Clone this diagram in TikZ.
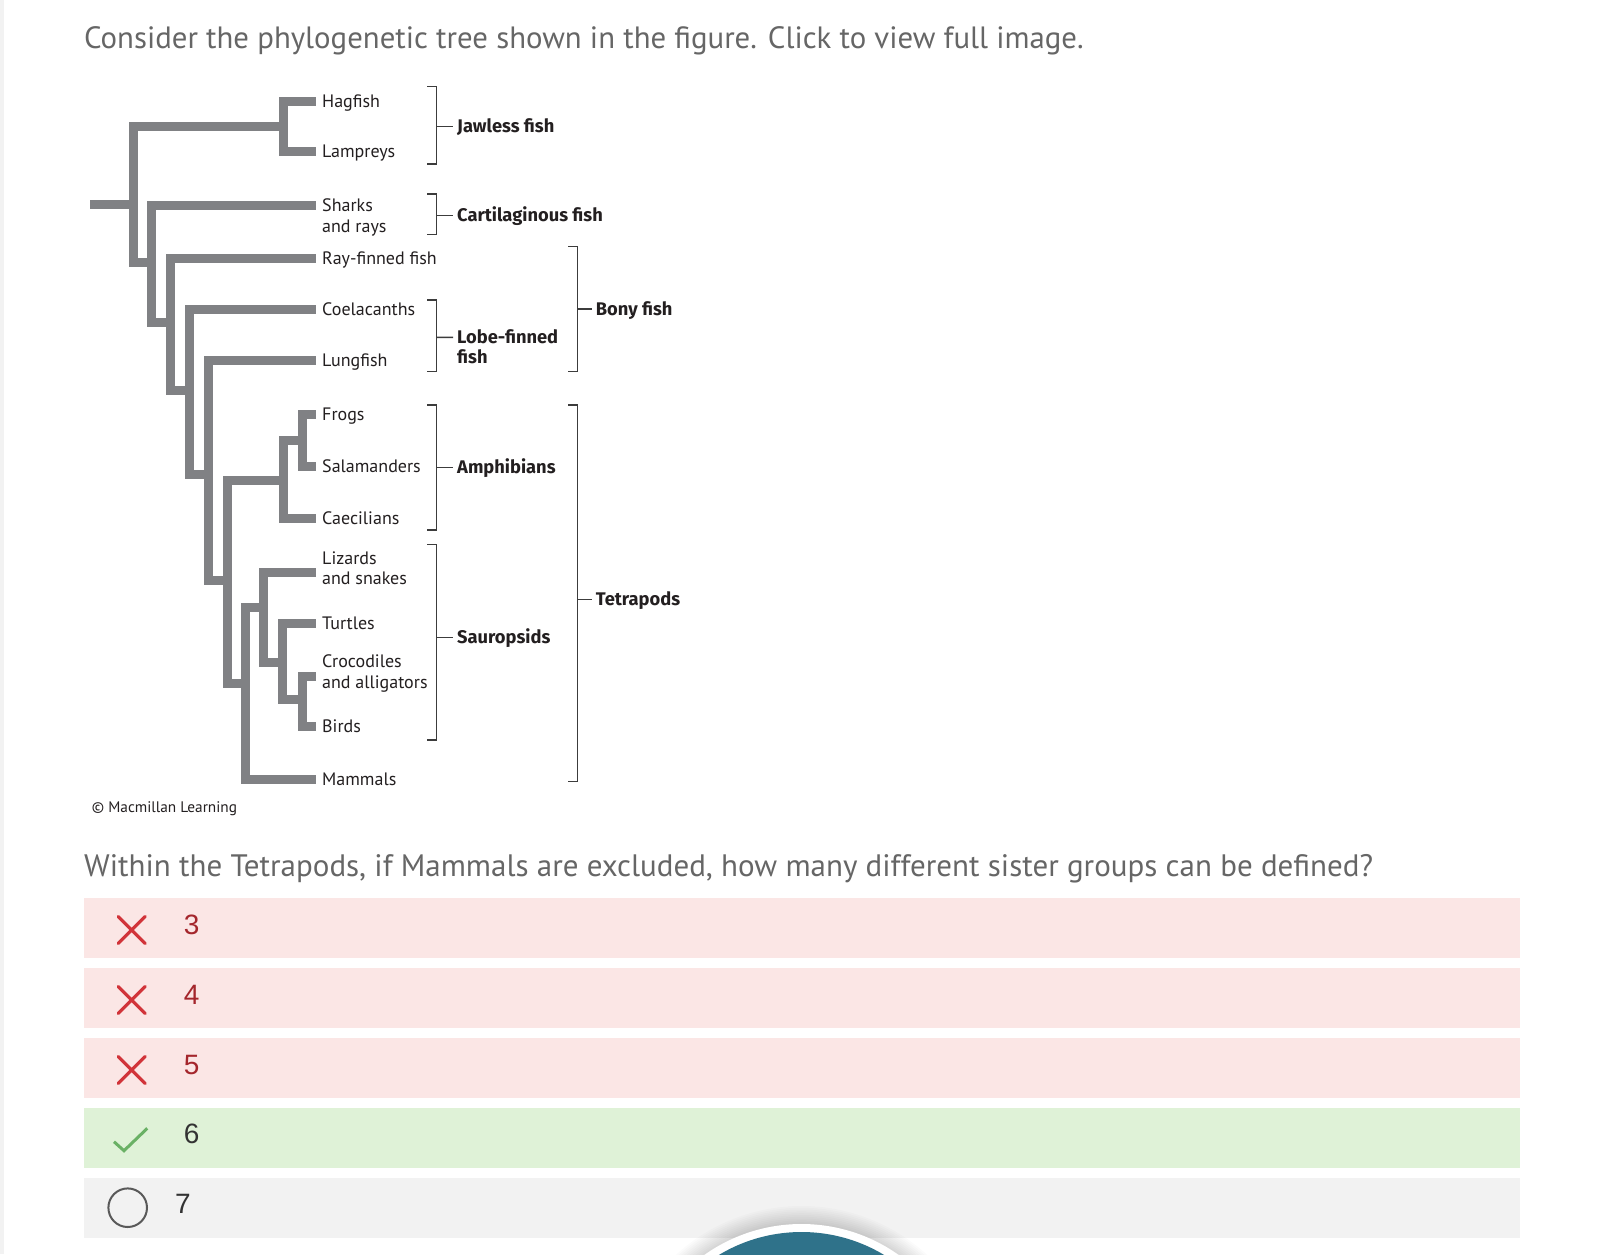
\documentclass[tikz,border=0pt]{standalone}
\usepackage{fontspec}
\setmainfont{PT Sans}
\newfontfamily\digitfont{Liberation Sans}
\newfontfamily\groupfont{Fira Sans}
\usepackage{tikz}
\usetikzlibrary{positioning}
\definecolor{treeColor}{HTML}{808184}
\definecolor{bracketColor}{HTML}{3C3C3C}
\definecolor{textColor}{HTML}{231F20}
\definecolor{titleColor}{HTML}{666666}
\definecolor{wrongFill}{HTML}{FBE6E5}
\definecolor{rightFill}{HTML}{DFF2D7}
\definecolor{plainFill}{HTML}{F2F2F2}
\definecolor{crossColor}{HTML}{D1343A}
\definecolor{wrongText}{HTML}{A4262C}
\definecolor{tickColor}{HTML}{6AB165}
\definecolor{answerText}{HTML}{333333}
\definecolor{buttonColor}{HTML}{2F728A}

\begin{document}
\begin{tikzpicture}[x=1pt,y=-1pt,
treeEdge/.style={line width=9pt,draw=treeColor,line join=miter},
bracketEdge/.style={line width=1.5pt,draw=bracketColor},
leafLabel/.style={anchor=west,inner sep=0,text=textColor,align=left,
    font=\fontsize{18}{20.6}\selectfont,text height=12pt,text depth=0pt},
groupLabel/.style={leafLabel,font=\groupfont\fontsize{18.3}{20.6}\selectfont\bfseries,inner xsep=4pt},
questionText/.style={anchor=base west,inner sep=0,text=titleColor,font=\fontsize{30.8}{36}\selectfont},
answerRow/.style={minimum width=1436pt,minimum height=59.4pt,inner sep=0},
answerNum/.style={inner sep=0,font=\digitfont\fontsize{28}{34}\selectfont},
crossMark/.style={line width=3.2pt,draw=crossColor,line cap=round}
]
\useasboundingbox (0,0) rectangle (1600,1254);
\fill[white] (0,0) rectangle (1600,1254);
\fill[plainFill] (0,0) rectangle (4,1254);

\node[questionText] (title) at (84,48.5) {Consider the phylogenetic tree shown in the figure. Click to view full image.};

% internal nodes of the tree
\coordinate (root) at (90,204);
\coordinate (nA) at (133,204);
\coordinate (nJaw) at (283.5,126.5);
\coordinate (nB) at (151.5,262.5);
\coordinate (nC) at (170.5,322);
\coordinate (nD) at (189.5,390);
\coordinate (nE) at (208,474.5);
\coordinate (nF) at (227.5,580.5);
\coordinate (nAmph) at (283.5,480.5);
\coordinate (nBat) at (302,440.5);
\coordinate (nG) at (245.5,683);
\coordinate (nSaur) at (263.5,607.5);
\coordinate (nArch) at (282.5,662.5);
\coordinate (nCroc) at (302,699.5);
% branch tips
\coordinate (tHag) at (316,101.5);
\coordinate (tLam) at (316,151.5);
\coordinate (tSha) at (316,205);
\coordinate (tRay) at (316,258);
\coordinate (tCoe) at (316,309);
\coordinate (tLun) at (316,360.5);
\coordinate (tFro) at (316,414.5);
\coordinate (tSal) at (316,466.5);
\coordinate (tCae) at (316,518.5);
\coordinate (tLiz) at (316,572);
\coordinate (tTur) at (316,623);
\coordinate (tCro) at (316,676.5);
\coordinate (tBir) at (316,726.5);
\coordinate (tMam) at (316,779.5);

\draw[treeEdge] (root) -- (nA) (nA) |- (nJaw) (nA) |- (nB);
\draw[treeEdge] (nJaw) |- (tHag) (nJaw) |- (tLam);
\draw[treeEdge] (nB) |- (tSha) (nB) |- (nC);
\draw[treeEdge] (nC) |- (tRay) (nC) |- (nD);
\draw[treeEdge] (nD) |- (tCoe) (nD) |- (nE);
\draw[treeEdge] (nE) |- (tLun) (nE) |- (nF);
\draw[treeEdge] (nF) |- (nAmph) (nF) |- (nG);
\draw[treeEdge] (nAmph) |- (nBat) (nAmph) |- (tCae);
\draw[treeEdge] (nBat) |- (tFro) (nBat) |- (tSal);
\draw[treeEdge] (nG) |- (nSaur) (nG) |- (tMam);
\draw[treeEdge] (nSaur) |- (tLiz) (nSaur) |- (nArch);
\draw[treeEdge] (nArch) |- (tTur) (nArch) |- (nCroc);
\draw[treeEdge] (nCroc) |- (tCro) (nCroc) |- (tBir);

\node[leafLabel] (hagfish) at ([xshift=6pt]tHag) {Hagfish};
\node[leafLabel] (lampreys) at ([xshift=6pt]tLam) {Lampreys};
\node[leafLabel] (sharks) at ([shift={(6,21.1)}]tSha) {Sharks\\and rays};
\node[leafLabel] (rayfinned) at ([xshift=6pt]tRay) {Ray-finned fish};
\node[leafLabel] (coelacanths) at ([xshift=6pt]tCoe) {Coelacanths};
\node[leafLabel] (lungfish) at ([xshift=6pt]tLun) {Lungfish};
\node[leafLabel] (frogs) at ([xshift=6pt]tFro) {Frogs};
\node[leafLabel] (salamanders) at ([xshift=6pt]tSal) {Salamanders};
\node[leafLabel] (caecilians) at ([xshift=6pt]tCae) {Caecilians};
\node[leafLabel] (lizards) at ([shift={(6,6.6)}]tLiz) {Lizards\\and snakes};
\node[leafLabel] (turtles) at ([xshift=6pt]tTur) {Turtles};
\node[leafLabel] (crocodiles) at ([shift={(6,5.6)}]tCro) {Crocodiles\\and alligators};
\node[leafLabel] (birds) at ([xshift=6pt]tBir) {Birds};
\node[leafLabel] (mammals) at ([xshift=6pt]tMam) {Mammals};

% brackets
\node[groupLabel] (jawless) at (453,126.7) {Jawless fish};
\draw[bracketEdge] (427,86.7) -| (436.7,164) -- (427,164);
\draw[bracketEdge] (436.7,126.7) -- (jawless.west);
\node[groupLabel] (cartilaginous) at (453,215.7) {Cartilaginous fish};
\draw[bracketEdge] (427,194) -| (436.7,234.3) -- (427,234.3);
\draw[bracketEdge] (436.7,215.7) -- (cartilaginous.west);
\node[groupLabel] (lobefinned) at (453,357.9) {Lobe-finned\\fish};
\draw[bracketEdge] (427,300) -| (436.7,371.7) -- (427,371.7);
\draw[bracketEdge] (436.7,337.3) -- ([yshift=20.6pt]lobefinned.west);
\node[groupLabel] (amphibians) at (453,467.7) {Amphibians};
\draw[bracketEdge] (427,405) -| (436.7,530) -- (427,530);
\draw[bracketEdge] (436.7,467.7) -- (amphibians.west);
\node[groupLabel] (sauropsids) at (453,637.7) {Sauropsids};
\draw[bracketEdge] (427,544.3) -| (436.7,740) -- (427,740);
\draw[bracketEdge] (436.7,637.7) -- (sauropsids.west);
\node[groupLabel] (bonyfish) at (591.7,309) {Bony fish};
\draw[bracketEdge] (568,246.7) -| (577.7,371.7) -- (568,371.7);
\draw[bracketEdge] (577.7,309) -- (bonyfish.west);
\node[groupLabel] (tetrapods) at (591.7,599.3) {Tetrapods};
\draw[bracketEdge] (568,405) -| (577.7,781.7) -- (568,781.7);
\draw[bracketEdge] (577.7,599.3) -- (tetrapods.west);

\node[anchor=base west,inner sep=0,text=textColor,font=\fontsize{15.3}{18}\selectfont] (credit) at (91.7,812) {© Macmillan Learning};

\node[questionText,font=\fontsize{31}{36}\selectfont] (question) at (84,876.5) {Within the Tetrapods, if Mammals are excluded, how many different sister groups can be defined?};

% answers
\node[answerRow,fill=wrongFill] (row1) at (802,928) {};
\node[answerRow,fill=wrongFill] (row2) at (802,998) {};
\node[answerRow,fill=wrongFill] (row3) at (802,1068) {};
\node[answerRow,fill=rightFill] (row4) at (802,1138) {};
\node[answerRow,fill=plainFill] (row5) at (802,1208) {};
\foreach \y in {930,1000,1070}
  \draw[crossMark] (118.2,\y-13.5) -- (145.2,\y+13.5) (118.2,\y+13.5) -- (145.2,\y-13.5);
\node[answerNum,text=wrongText] (ans3) at (191.7,925) {3};
\node[answerNum,text=wrongText] (ans4) at (191.7,995) {4};
\node[answerNum,text=wrongText] (ans5) at (191.7,1065) {5};
\draw[line width=3pt,draw=tickColor] (114,1141.7) -- (124,1150.7) -- (147.3,1128.3);
\node[answerNum,text=answerText] (ans6) at (191.7,1134) {6};
\draw[line width=2pt,draw=black!65] (127.7,1207.7) circle (19.3pt);
\node[answerNum,text=answerText] (ans7) at (183,1204) {7};

% button
\coordinate (btn) at (801.5,1392);
\foreach \k in {1,...,10}
  \fill[black,opacity=0.014] (btn) circle ({168+1.8*\k});
\fill[white] (btn) circle (168pt);
\fill[buttonColor] (btn) circle (160pt);
\end{tikzpicture}
\end{document}
